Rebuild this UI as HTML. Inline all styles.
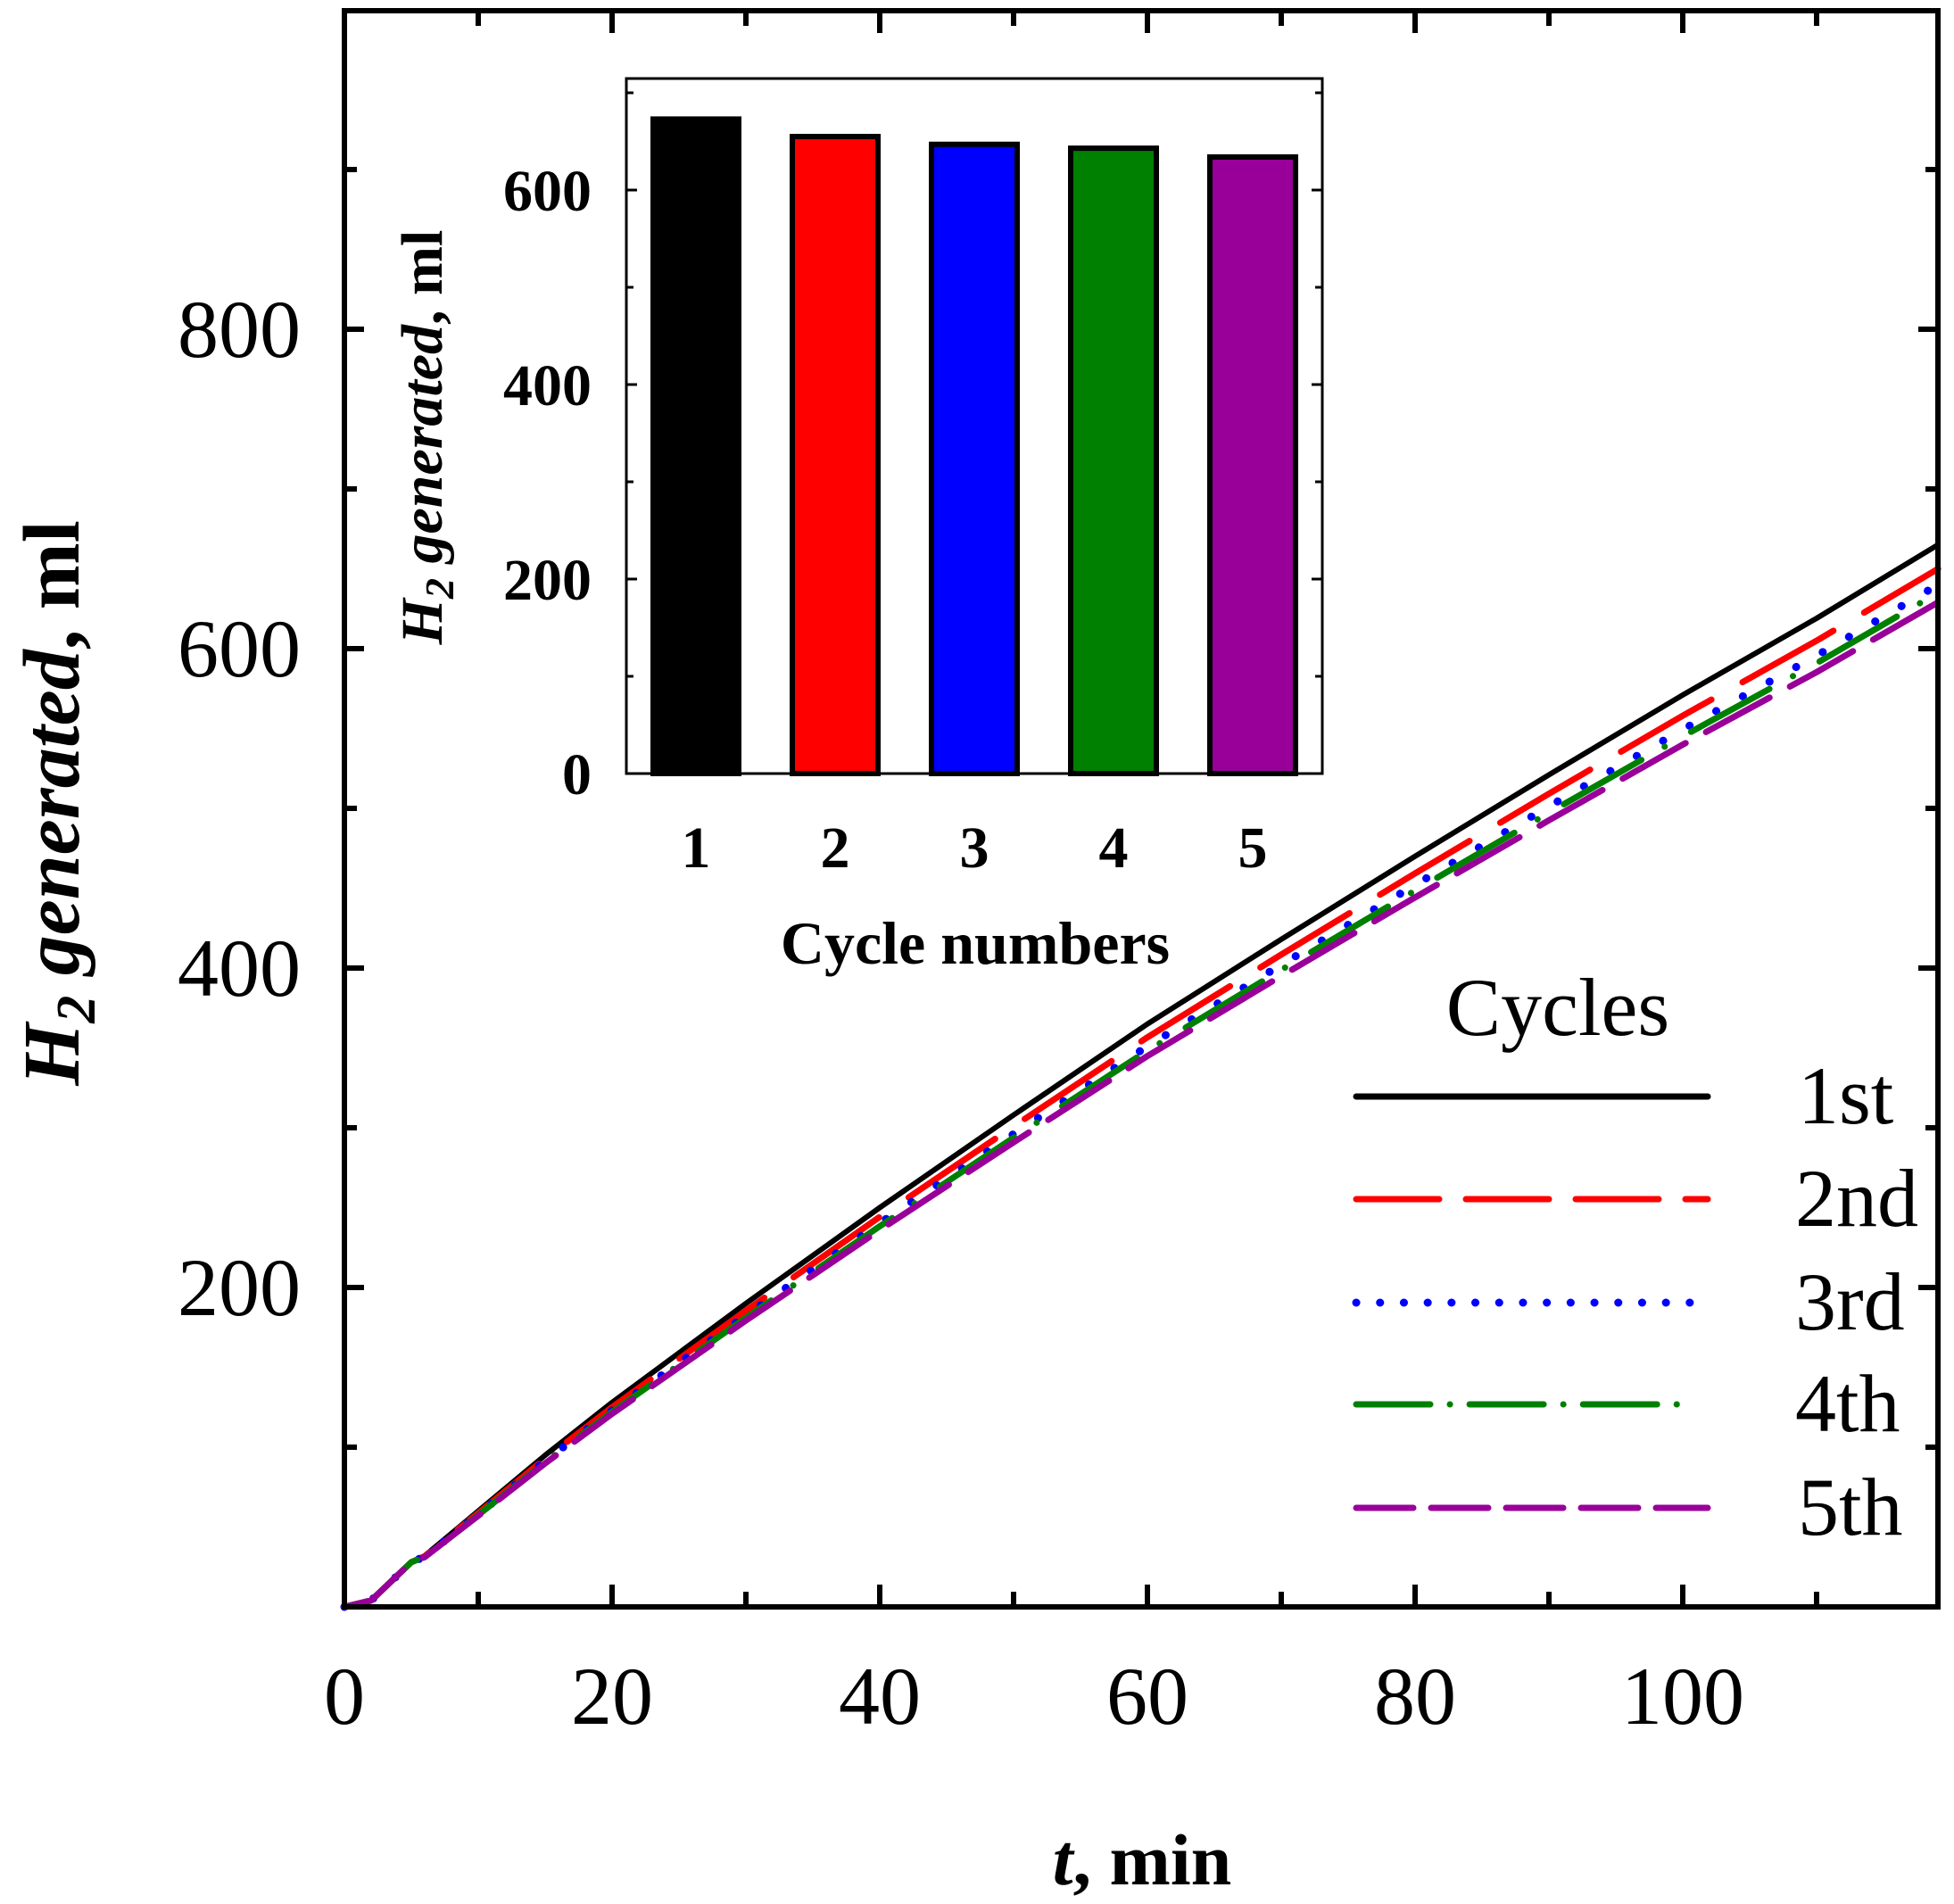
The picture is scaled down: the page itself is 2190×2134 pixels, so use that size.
<!DOCTYPE html>
<html><head><meta charset="utf-8"><style>
html,body{margin:0;padding:0;background:#fff}
svg{display:block}
</style></head><body>
<svg id="s" width="2190" height="2134" viewBox="0 0 2190 2134" xmlns="http://www.w3.org/2000/svg" font-family="Liberation Serif, serif">
<rect width="2190" height="2134" fill="#fff"/>
<g id="curves" fill="none" stroke-linejoin="round"></g>
<g id="axes" stroke="#000" stroke-width="6" fill="none"></g>
<rect x="386" y="12" width="1786" height="1789" fill="none" stroke="#000" stroke-width="6"/>
<rect x="702" y="88" width="780" height="779" fill="#fff" stroke="#000" stroke-width="3"/>
<g id="inset"></g>
<g id="labels" fill="#000"></g>
<g stroke-width="7" stroke-linecap="round" fill="none">
<line x1="1520" y1="1229" x2="1914" y2="1229" stroke="#000"/>
<line x1="1520" y1="1344" x2="1914" y2="1344" stroke="#f00" stroke-dasharray="93 30"/>
<line x1="1520" y1="1460" x2="1900" y2="1460" stroke="#00f" stroke-width="9" stroke-dasharray="0.1 26.6"/>
<line x1="1520" y1="1574" x2="1895" y2="1574" stroke="#008000" stroke-dasharray="83 22 0.1 22"/>
<line x1="1520" y1="1690" x2="1914" y2="1690" stroke="#909" stroke-dasharray="64 20"/>
</g>
<g font-size="92" fill="#000">
<text x="1746" y="1160" text-anchor="middle">Cycles</text>
<text x="2015" y="1259">1st</text>
<text x="2012" y="1374">2nd</text>
<text x="2012" y="1490">3rd</text>
<text x="2012" y="1604">4th</text>
<text x="2015" y="1720">5th</text>
</g>
<text x="1280" y="2112" font-size="82" font-weight="bold" text-anchor="middle"><tspan font-style="italic">t</tspan>, min</text>
<text transform="translate(88,900) rotate(-90)" font-size="90" font-weight="bold" text-anchor="middle"><tspan font-style="italic">H</tspan><tspan font-style="italic" font-size="62" dy="18">2</tspan><tspan font-style="italic" dy="-18"> generated</tspan>, ml</text>
<text transform="translate(495,490) rotate(-90)" font-size="66" font-weight="bold" text-anchor="middle"><tspan font-style="italic">H</tspan><tspan font-style="italic" font-size="46" dy="13">2</tspan><tspan font-style="italic" dy="-13"> generated</tspan>, ml</text>
<text x="1093" y="1080" font-size="68" font-weight="bold" text-anchor="middle">Cycle numbers</text>
</svg>
<script>
var NS="http://www.w3.org/2000/svg";
function el(p,t,a,txt){var e=document.createElementNS(NS,t);for(var k in a)e.setAttribute(k,a[k]);if(txt!==undefined)e.textContent=txt;document.getElementById(p).appendChild(e);return e;}
var X=function(t){return 386+15*t}, Y=function(v){return 1801-1.79*v};
for(var t=10;t<119;t+=10){var L=(t%20==0)?25:17;
 el("axes","line",{x1:X(t),y1:1801,x2:X(t),y2:1801-L});
 el("axes","line",{x1:X(t),y1:12,x2:X(t),y2:12+L});}
for(var v=100;v<1000;v+=100){var L=(v%200==0)?22:14;
 el("axes","line",{x1:386,y1:Y(v),x2:386+L,y2:Y(v)});
 el("axes","line",{x1:2172,y1:Y(v),x2:2172-L,y2:Y(v)});}
for(var t=0;t<=100;t+=20) el("labels","text",{x:X(t),y:1932,"font-size":92,"text-anchor":"middle"},String(t));
for(var v=200;v<=800;v+=200) el("labels","text",{x:337,y:Y(v)+31,"font-size":92,"text-anchor":"end"},String(v));
var bx=[0,2,5,6,10,15,20,25,30,35,40,50,60,70,80,90,100,110,119.07];
var by=[0,4,28,32,60,95,128,159,190,220,250,308,365,418,470,521,571,619,665];
var series=[["#000",0,"none",6],["#f00",15,"117 40",7],["#00f",25,"0.1 34",9],["#008000",30,"100 30 0.1 34",7],["#909",36,"81 26",7]];
series.forEach(function(s,i){var d="";
 for(var j=0;j<bx.length;j++){var t=bx[j],off=t<=5?0:s[1]*Math.pow(Math.min(1,(t-5)/114),0.8);
  d+=(j?"L":"M")+X(t).toFixed(1)+","+Y(by[j]-off).toFixed(1);}
 el("curves","path",{d:d,stroke:s[0],"stroke-width":s[3],"stroke-dasharray":s[2],"stroke-linecap":"round"});});
var IY=function(v){return 867-1.09*v};
var vals=[673,655,647,643,634],cols=["#000","#f00","#00f","#008000","#909"];
for(var i=0;i<5;i++){var cx=780+156*i;
 el("inset","rect",{x:cx-48,y:IY(vals[i]),width:96,height:867-IY(vals[i]),fill:cols[i],stroke:"#000","stroke-width":6});
 el("inset","text",{x:cx,y:972,"font-size":66,"font-weight":"bold","text-anchor":"middle"},String(i+1));}
for(var v=100;v<=700;v+=100){var L=(v%200==0)?12:8;
 el("inset","line",{x1:702,y1:IY(v),x2:702+L,y2:IY(v),stroke:"#000","stroke-width":3});
 el("inset","line",{x1:1482,y1:IY(v),x2:1482-L,y2:IY(v),stroke:"#000","stroke-width":3});}
for(var v=0;v<=600;v+=200) el("inset","text",{x:663,y:IY(v)+23,"font-size":66,"font-weight":"bold","text-anchor":"end"},String(v));
el("inset","rect",{x:702,y:88,width:780,height:779,fill:"none",stroke:"#000","stroke-width":3});
</script>
</body></html>
